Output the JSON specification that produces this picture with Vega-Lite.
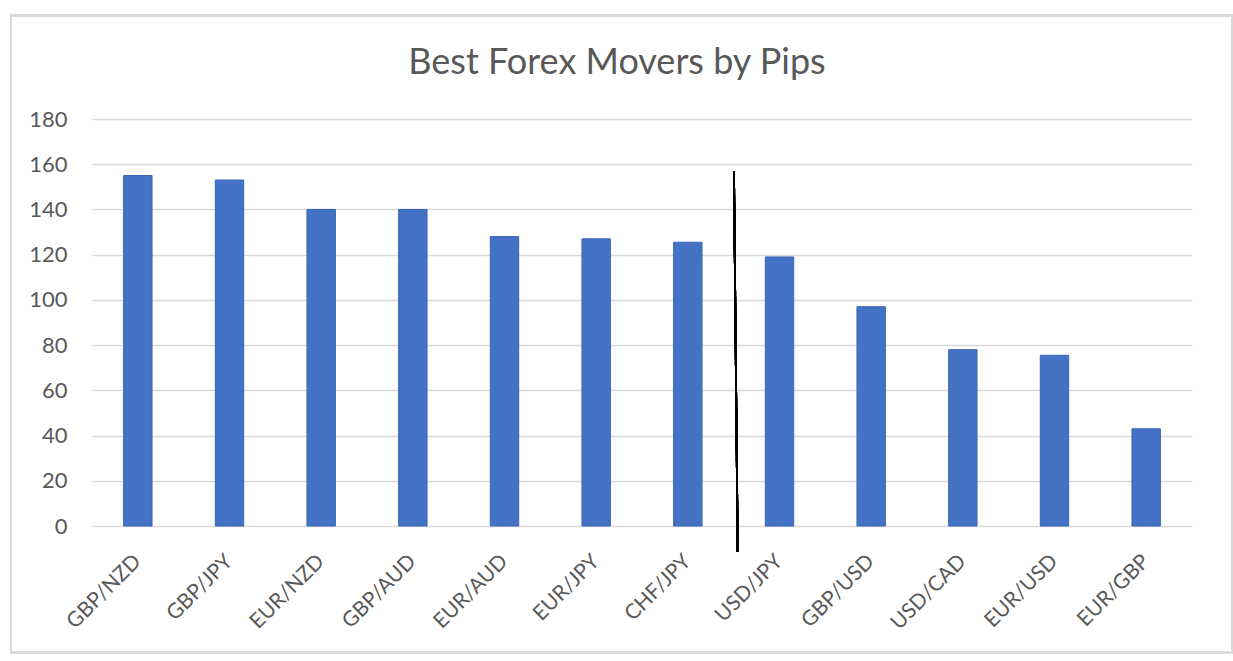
{
  "$schema": "https://vega.github.io/schema/vega-lite/v6.json",
  "autosize": "none",
  "width": 1100,
  "height": 407,
  "padding": {"left": 92, "top": 119, "right": 41, "bottom": 135},
  "background": "white",
  "title": {
    "text": "Best Forex Movers by Pips",
    "font": "Lato",
    "fontSize": 36,
    "fontWeight": "normal",
    "color": "#595959",
    "anchor": "middle",
    "dx": -25,
    "offset": -67
  },
  "data": {
    "values": [
      {"pair": "GBP/NZD", "pips": 155},
      {"pair": "GBP/JPY", "pips": 153},
      {"pair": "EUR/NZD", "pips": 140},
      {"pair": "GBP/AUD", "pips": 140},
      {"pair": "EUR/AUD", "pips": 128},
      {"pair": "EUR/JPY", "pips": 127},
      {"pair": "CHF/JPY", "pips": 125.5},
      {"pair": "USD/JPY", "pips": 119},
      {"pair": "GBP/USD", "pips": 97},
      {"pair": "USD/CAD", "pips": 78},
      {"pair": "EUR/USD", "pips": 75.5},
      {"pair": "EUR/GBP", "pips": 43}
    ]
  },
  "layer": [
    {
      "mark": {"type": "bar", "color": "#4472C4", "stroke": "#3A66B8", "strokeWidth": 1},
      "encoding": {
        "x": {
          "field": "pair",
          "type": "nominal",
          "sort": null,
          "scale": {"paddingInner": 0.69, "paddingOuter": 0.345},
          "axis": {
            "title": null,
            "labelAngle": -45,
            "labelAlign": "right",
            "labelBaseline": "middle",
            "labelPadding": 32,
            "labelFont": "Lato",
            "labelFontSize": 21,
            "labelColor": "#595959",
            "ticks": false,
            "domain": false,
            "grid": false
          }
        },
        "y": {
          "field": "pips",
          "type": "quantitative",
          "scale": {"domain": [0, 180], "nice": false},
          "axis": {
            "title": null,
            "values": [0, 20, 40, 60, 80, 100, 120, 140, 160, 180],
            "labelFont": "Lato",
            "labelFontSize": 22,
            "labelColor": "#595959",
            "labelPadding": 25,
            "ticks": false,
            "domain": false,
            "gridColor": "#D9D9D9",
            "gridWidth": 1.5
          }
        }
      }
    },
    {
      "layer": [
        {
          "mark": {"type": "rect", "fill": null, "stroke": "#D9D9D9", "strokeWidth": 1.5},
          "encoding": {
            "x": {"datum": -0.0736, "type": "quantitative", "scale": {"domain": [0, 1], "nice": false, "zero": false}, "axis": null},
            "x2": {"datum": 1.0366},
            "y": {"datum": 225.8, "type": "quantitative"},
            "y2": {"datum": -56}
          }
        },
        {
          "mark": {"type": "rule", "color": "black", "strokeWidth": 1.8},
          "encoding": {
            "x": {"datum": 0.5836, "type": "quantitative"},
            "x2": {"datum": 0.587},
            "y": {"datum": 157, "type": "quantitative"},
            "y2": {"datum": -11.5}
          }
        }
      ]
    }
  ],
  "resolve": {"scale": {"x": "independent"}, "axis": {"x": "independent"}},
  "config": {"view": {"stroke": null}}
}
